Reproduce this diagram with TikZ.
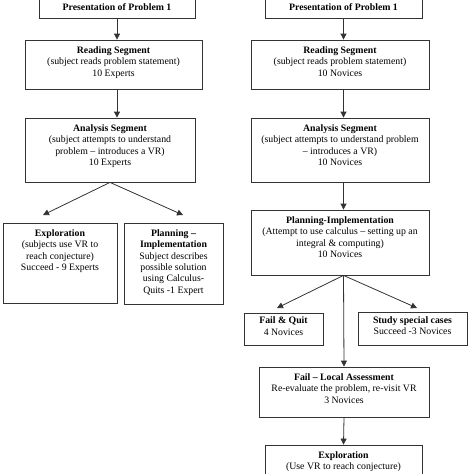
\documentclass[tikz,border=0pt]{standalone}
\usepackage{fontspec}
\setmainfont{Liberation Serif}
\usepackage{tikz}
\usetikzlibrary{arrows.meta}
\newcommand{\bx}[4][6.5pt]{\parbox[c][#3][t]{#2}{\centering\vspace*{#1}#4}}

\begin{document}
\begin{tikzpicture}[x=1pt,y=-1pt,font=\fontsize{9.8}{11.4}\selectfont,
    blk/.style={draw=black!80,line width=0.8pt,inner sep=0pt},
    arr/.style={draw=black!80,line width=0.8pt,-{Triangle[width=6pt,length=6pt]}}]
    \clip (0,0) rectangle (474,474);
    \fill[white] (0,0) rectangle (474,474);
    % experts
    \node[blk] (pl) at (117,7.5) {\bx{156pt}{21pt}{\textbf{Presentation of Problem 1}}};
    \node[blk] (rl) at (113.5,64.5) {\bx{177pt}{49pt}{\textbf{Reading Segment}\\(subject reads problem statement)\\10 Experts}};
    \node[blk] (al) at (110,150) {\bx{170pt}{64pt}{\textbf{Analysis Segment}\\(subject attempts to understand\\problem -- introduces a VR)\\10 Experts}};
    \node[blk] (el) at (60,263) {\bx{114pt}{80pt}{\textbf{Exploration}\\(subjects use VR to\\reach conjecture)\\Succeed - 9 Experts}};
    \node[blk] (ppl) at (173.5,263.5) {\bx{99pt}{81pt}{\textbf{Planning --}\\\textbf{Implementation}\\Subject describes\\possible solution\\using Calculus-\\Quits -1 Expert}};
    % novices
    \node[blk] (pr) at (343.5,7.5) {\bx{157pt}{21pt}{\textbf{Presentation of Problem 1}}};
    \node[blk] (rr) at (340,64.5) {\bx{178pt}{49pt}{\textbf{Reading Segment}\\(subject reads problem statement)\\10 Novices}};
    \node[blk] (ar) at (340,150) {\bx{178pt}{64pt}{\textbf{Analysis Segment}\\(subject attempts to understand problem\\-- introduces a VR)\\10 Novices}};
    \node[blk] (pir) at (340,242.5) {\bx{178pt}{65pt}{\textbf{Planning-Implementation}\\(Attempt to use calculus -- setting up an\\integral \& computing)\\10 Novices}};
    \node[blk] (fq) at (283.5,329) {\bx[4pt]{79pt}{32pt}{\textbf{Fail \& Quit}\\4 Novices}};
    \node[blk] (ss) at (412.5,328.5) {\bx[4.5pt]{109pt}{33pt}{\textbf{Study special cases}\\Succeed -3 Novices}};
    \node[blk] (fla) at (344,392) {\bx{170pt}{50pt}{\textbf{Fail -- Local Assessment}\\Re-evaluate the problem, re-visit VR\\3 Novices}};
    \node[blk] (er) at (343.5,467.5) {\bx{157pt}{45pt}{\textbf{Exploration}\\(Use VR to reach conjecture)}};
    \coordinate (elin) at (43,215);
    \coordinate (pplin) at (183,215);
    \coordinate (fqin) at (277,308);
    \coordinate (ssin) at (417,308);
    \draw[arr] (pl.south) -- (pl.south |- rl.north);
    \draw[arr] (pl.south |- rl.south) -- (pl.south |- al.north);
    \draw[arr] (al.south) -- (elin);
    \draw[arr] (al.south) -- (pplin);
    \draw[arr] (pr.south) -- (pr.south |- rr.north);
    \draw[arr] (pr.south |- rr.south) -- (pr.south |- ar.north);
    \draw[arr] (pr.south |- ar.south) -- (pr.south |- pir.north);
    \draw[arr] (pr.south |- pir.south) -- (fqin);
    \draw[arr] (pr.south |- pir.south) -- (ssin);
    \draw[arr] (pr.south |- pir.south) -- (fla.north);
    \draw[arr] (fla.south) -- (er.north);
\end{tikzpicture}
\end{document}
